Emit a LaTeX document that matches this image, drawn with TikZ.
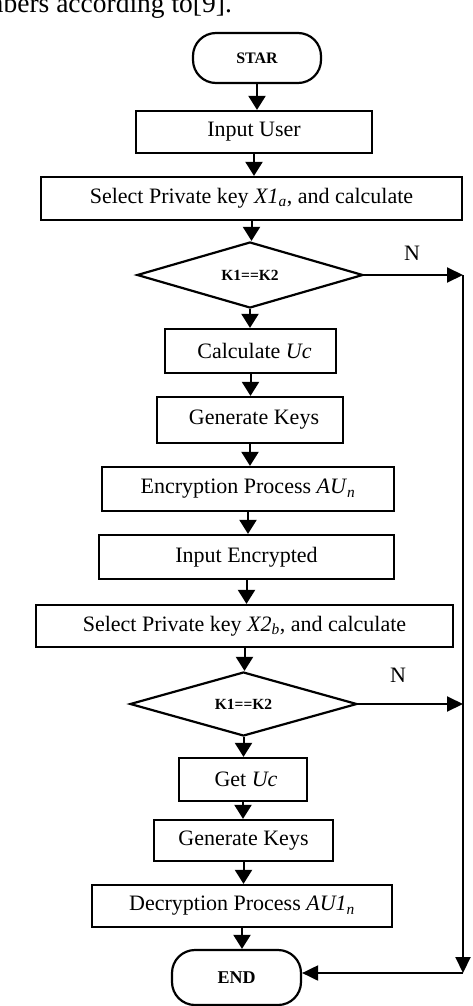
\documentclass[tikz,border=0pt]{standalone}
\usepackage{fontspec}
\setmainfont{Liberation Serif}
\usepackage{tikz}
\usetikzlibrary{shapes.geometric,arrows.meta,positioning,calc}

\begin{document}
\begin{tikzpicture}[
    x=1pt, y=-1pt,
    procbox/.style={rectangle, draw, line width=2.2pt, inner sep=0pt, font=\fontsize{22}{24}\selectfont},
    termbox/.style={rectangle, rounded corners=23pt, draw, line width=2.2pt, inner sep=0pt, font=\fontsize{16}{18}\selectfont\bfseries},
    decbox/.style={diamond, draw, line width=2.2pt, inner sep=0pt, aspect=3.4, font=\fontsize{15.5}{17}\selectfont\bfseries},
    arrow/.style={-{Triangle[length=14pt,width=17pt]}, line width=2pt},
    sidearrow/.style={-{Triangle[length=16pt,width=15pt]}, line width=2pt},
    nlabel/.style={inner sep=0pt, font=\fontsize{22}{24}\selectfont}
]
\useasboundingbox (0,0) rectangle (472,1006);

% text of the page above the figure
\node[anchor=base west, inner sep=0pt, font=\fontsize{27.5}{30}\selectfont] (pagetext) at (-18,13) {mbers according to[9].};

% main column
\node[termbox, minimum width=128pt, minimum height=50pt] (start) at (257,58) {STAR};
\node[procbox, minimum width=236pt, minimum height=42pt] (inuser) at (254,132) {Input User};
\node[procbox, minimum width=421pt, minimum height=43pt] (selxa) at (251.5,198.5) {Select Private key \textit{X1}\textsubscript{\textit{a}}, and calculate};
\node[decbox, minimum width=226pt, minimum height=66pt] (cmpa) at (250,275) {K1==K2};
\node[procbox, minimum width=171pt, minimum height=44pt] (calcuc) at (250.5,351) {\hspace{8pt}Calculate \textit{Uc}};
\node[procbox, minimum width=186pt, minimum height=46pt] (genkeysa) at (250,420) {\hspace{8pt}Generate Keys};
\node[procbox, minimum width=292pt, minimum height=44pt] (encproc) at (248,489) {Encryption Process \textit{AU}\textsubscript{\textit{n}}};
\node[procbox, minimum width=295pt, minimum height=44pt] (inenc) at (246.5,557) {Input Encrypted};
\node[procbox, minimum width=417pt, minimum height=42pt] (selxb) at (244.5,626) {Select Private key \textit{X2}\textsubscript{\textit{b}}, and calculate};
\node[decbox, minimum width=227pt, minimum height=64pt] (cmpb) at (243.5,704) {K1==K2};
\node[procbox, minimum width=128pt, minimum height=43pt] (getuc) at (243,779.5) {\hspace{6pt}Get \textit{Uc}};
\node[procbox, minimum width=179pt, minimum height=41pt] (genkeysb) at (243.5,840.5) {Generate Keys};
\node[procbox, minimum width=300pt, minimum height=42pt] (decproc) at (242,906) {Decryption Process \textit{AU1}\textsubscript{\textit{n}}};
\node[termbox, minimum width=129pt, minimum height=55pt, font=\fontsize{18}{20}\selectfont\bfseries] (end) at (236.5,977.5) {END};

% N labels
\node[nlabel] (na) at (412,253) {N};
\node[nlabel] (nb) at (398,675) {N};

% right return line
\coordinate (ra) at (463,275);
\coordinate (rb) at (463,704);
\coordinate (rend) at (463,973);

\draw[arrow] (start.south) -- (start.south |- inuser.north);
\draw[arrow] (inuser.south) -- (inuser.south |- selxa.north);
\draw[arrow] (selxa.south) -- (selxa.south |- cmpa.north);
\draw[arrow] (cmpa.south) -- (cmpa.south |- calcuc.north);
\draw[arrow] (calcuc.south) -- (calcuc.south |- genkeysa.north);
\draw[arrow] (genkeysa.south) -- (genkeysa.south |- encproc.north);
\draw[arrow] (encproc.south) -- (encproc.south |- inenc.north);
\draw[arrow] (inenc.south) -- (inenc.south |- selxb.north);
\draw[arrow] (selxb.south) -- (selxb.south |- cmpb.north);
\draw[arrow] (cmpb.south) -- (cmpb.south |- getuc.north);
\draw[arrow] (getuc.south) -- (getuc.south |- genkeysb.north);
\draw[arrow] (genkeysb.south) -- (genkeysb.south |- decproc.north);
\draw[arrow] (decproc.south) -- (decproc.south |- end.north);

\draw[sidearrow] (cmpa.east) -- (ra);
\draw[sidearrow] (cmpb.east) -- (rb);
\draw[sidearrow] (ra) -- (rend);
\draw[sidearrow] (rend) -- (rend -| end.east);
\end{tikzpicture}
\end{document}
